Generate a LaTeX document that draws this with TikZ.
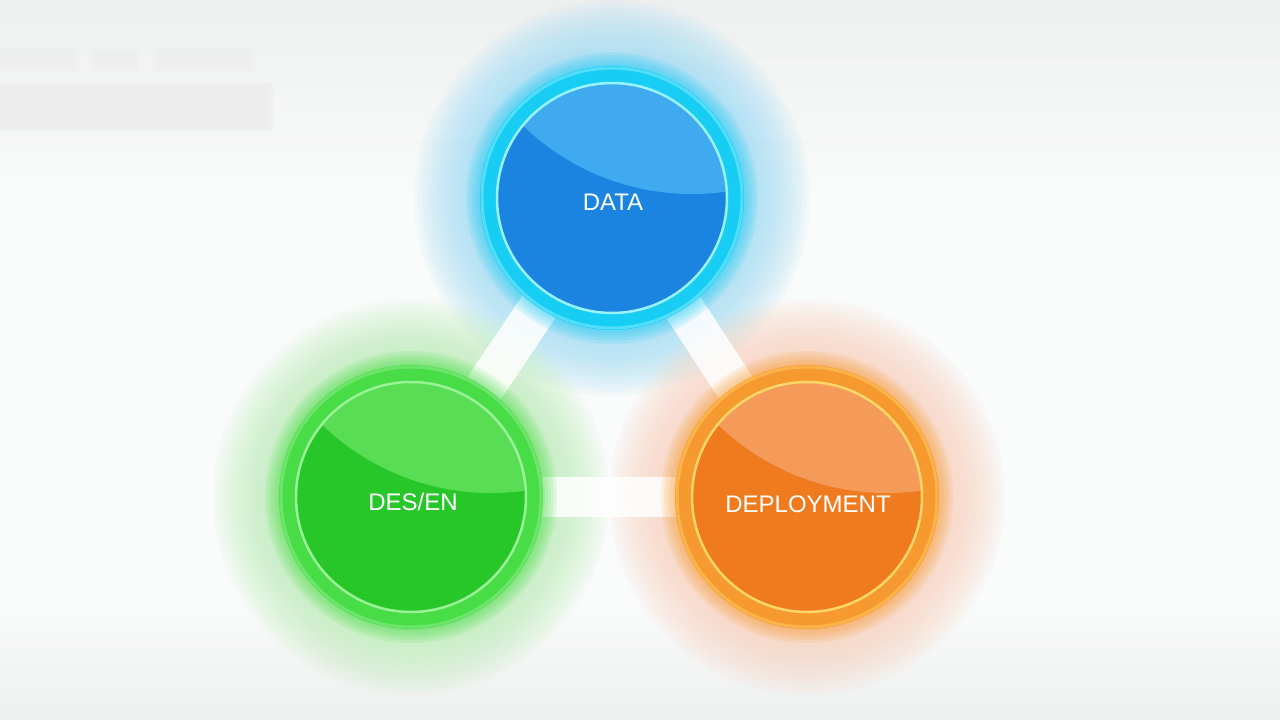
\documentclass[tikz,border=0pt]{standalone}
\usepackage{fontspec}
\setmainfont{Liberation Sans}
\usetikzlibrary{calc}
\definecolor{bgtop}{HTML}{EEEFEF}
\definecolor{bgmid}{HTML}{FAFBFB}
\definecolor{bgbar}{HTML}{E3E4E4}
% blue
\definecolor{haloA}{HTML}{9EDDF5}
\definecolor{ringA}{HTML}{18CDF3}
\definecolor{ringlA}{HTML}{9AF2FF}
\definecolor{discA}{HTML}{1A84E0}
\definecolor{hiA}{HTML}{3FAAF0}
% green
\definecolor{haloB}{HTML}{BDEFB8}
\definecolor{ringB}{HTML}{48DC46}
\definecolor{ringlB}{HTML}{9AF296}
\definecolor{discB}{HTML}{27C72A}
\definecolor{hiB}{HTML}{58DD55}
% orange
\definecolor{haloC}{HTML}{F8D2BC}
\definecolor{ringC}{HTML}{F6992F}
\definecolor{ringlC}{HTML}{FFD66A}
\definecolor{discC}{HTML}{F07B1F}
\definecolor{hiC}{HTML}{F59B5A}
\tikzset{
  bar/.style={line width=40pt, white, opacity=.85},
  bubblelbl/.style={circle, minimum size=264pt, inner sep=0pt},
  lbltext/.style={text=white, font=\fontsize{24}{28}\selectfont},
  blurbox/.style={black!7, opacity=.25},
}
\newcommand\halo[2]{%
  \foreach \r in {198,194,...,134} {\fill[#2, opacity=.085] (#1) circle (\r pt);}%
}
\newcommand\bubble[5]{% #1 centre, #2 ring, #3 ring light, #4 disc, #5 highlight
  \foreach \r in {146,143,140,137,134} {\fill[#2, opacity=.12] (#1) circle (\r pt);}%
  \fill[#2] (#1) circle (132pt);
  \draw[#3, line width=3pt, opacity=.45] (#1) circle (130pt);
  \fill[#4] (#1) circle (114pt);
  \begin{scope}
    \clip (#1) circle (114pt);
    \fill[#5] ($(#1)+(80,-247)$) circle (243pt);
  \end{scope}
  \draw[#3, line width=2.5pt] (#1) circle (115pt);
}
\newcommand\blurrect[4]{% x1 y1 x2 y2
  \foreach \d in {0,2,4} {\fill[blurbox] (#1-\d,#2-\d) rectangle (#3+\d,#4+\d);}%
}
\begin{document}
\begin{tikzpicture}[x=1pt,y=-1pt]
\useasboundingbox (0,0) rectangle (1280,720);
% background
\fill[bgtop] (0,0) rectangle (1280,720);
\shade[top color=bgtop, bottom color=bgmid] (0,0) rectangle (1280,200);
\fill[bgmid] (0,200) rectangle (1280,600);
\shade[top color=bgmid, bottom color=bgtop] (0,600) rectangle (1280,720);
\blurrect{0}{85}{270}{128}
\blurrect{0}{86}{268}{127}
\blurrect{0}{50}{75}{68}
\blurrect{95}{52}{135}{68}
\blurrect{158}{50}{250}{68}
\fill[black!4, opacity=.5] (0,140) rectangle (1280,146);
\fill[black!4, opacity=.5] (760,58) rectangle (1280,66);
\fill[black!3, opacity=.5] (0,640) rectangle (1280,646);

\coordinate (cA) at (612,198);
\coordinate (cB) at (411,497);
\coordinate (cC) at (807,497);

% halos
\halo{cA}{haloA}
\halo{cB}{haloB}
\halo{cC}{haloC}

% nodes placed at circle centres
\node[bubblelbl] (data) at (cA) {};
\node[bubblelbl] (design) at (cB) {};
\node[bubblelbl] (deploy) at (cC) {};

% connectors
\draw[bar] (data.center) -- (design.center);
\draw[bar] (data.center) -- (deploy.center);
\draw[bar] (design.center) -- (deploy.center);

% bubbles
\bubble{cA}{ringA}{ringlA}{discA}{hiA}
\bubble{cB}{ringB}{ringlB}{discB}{hiB}
\bubble{cC}{ringC}{ringlC}{discC}{hiC}

% labels
\node[lbltext] (tA) at ($(data.center)+(1,4)$) {DATA};
\node[lbltext] (tB) at ($(design.center)+(2,5)$) {DES/EN};
\node[lbltext] (tC) at ($(deploy.center)+(1,7)$) {DEPLOYMENT};
\end{tikzpicture}
\end{document}
